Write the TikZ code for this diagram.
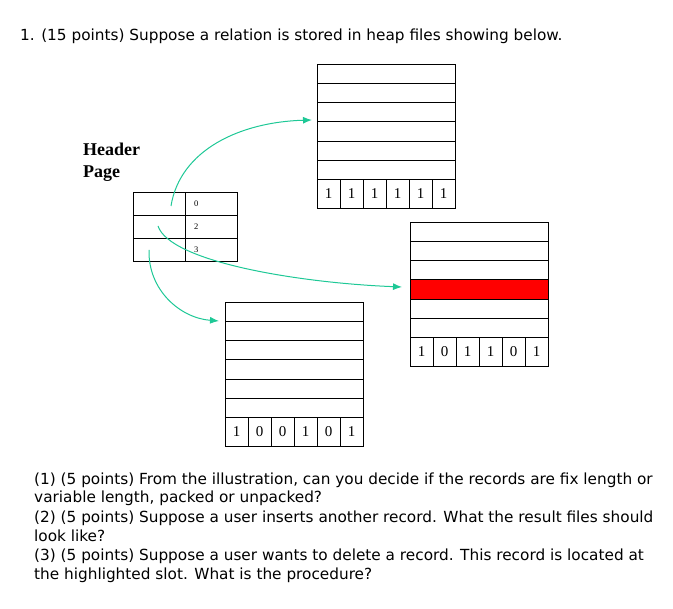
\documentclass[tikz,border=0pt]{standalone}
\usepackage{fontspec}
\setmainfont{Liberation Serif}
\newfontfamily\qfont{DejaVu Sans}
\usetikzlibrary{arrows.meta}
\begin{document}
\begin{tikzpicture}[x=1pt,y=-1pt,
  cell/.style={draw, line width=0.9pt},
  q/.style={anchor=west, font=\qfont\fontsize{15.3}{18}\selectfont, inner sep=0pt},
  bit/.style={font=\fontsize{15}{17}\selectfont, inner sep=0pt},
  hd/.style={font=\fontsize{8.5}{10}\selectfont, inner sep=0pt, anchor=west}]
\useasboundingbox (0,0) rectangle (673,609);
\definecolor{arrc}{RGB}{30,200,150}
\tikzset{arr/.style={draw=arrc, line width=1pt, -{Latex[length=9pt,width=7pt]}}}
\node[q] (title) at (20,36) {1. (15 points) Suppose a relation is stored in heap files showing below.};
% header page
\node[anchor=north west, align=left, inner sep=0pt, font=\bfseries\fontsize{18}{22}\selectfont] (hlabel) at (83,143) {Header\\Page};
\foreach \i/\v in {0/0,1/2,2/3}{
  \draw[cell] (133,{192+23.3*\i}) rectangle (185,{192+23.3*(\i+1)});
  \draw[cell] (185,{192+23.3*\i}) rectangle (237,{192+23.3*(\i+1)});
  \node[hd] (h\i) at (194,{203.5+23.3*\i}) {\v};
}
\coordinate (s0) at (171,206);
\coordinate (s1) at (158,226);
\coordinate (s2) at (149,250);
\foreach \name/\x/\y/\bits/\red in {A/317/64/{1,1,1,1,1,1}/0, B/410/222/{1,0,1,1,0,1}/1, C/225/302/{1,0,0,1,0,1}/0}{
  \begin{scope}[shift={(\x,\y)}]
    \ifnum\red=1 \fill[red] (0,57.9) rectangle (138,77.2);\fi
    \foreach \r in {0,...,5} \draw[cell] (0,{19.3*\r}) rectangle (138,{19.3*(\r+1)});
    \foreach \b [count=\k from 0] in \bits {
      \draw[cell] ({23*\k},115.8) rectangle ({23*(\k+1)},144.5);
      \node[bit] at ({23*\k+11.5},130) {\b};
    }
    \coordinate (\name) at (0,0);
  \end{scope}
}
\coordinate (tA) at (312,120);
\coordinate (tB) at (402,287);
\coordinate (tC) at (219,321);
\draw[arr] (s0) .. controls (180,150) and (240,122) .. (tA);
\draw[arr] (s1) .. controls (170,262) and (300,283) .. (tB);
\draw[arr] (s2) .. controls (148,290) and (180,318) .. (tC);
\node[q] (q1) at (34,480) {(1) (5 points) From the illustration, can you decide if the records are fix length or};
\node[q] (q1b) at (34,498) {variable length, packed or unpacked?};
\node[q] (q2) at (34,518) {(2) (5 points) Suppose a user inserts another record. What the result files should};
\node[q] (q2b) at (34,536) {look like?};
\node[q] (q3) at (34,556) {(3) (5 points) Suppose a user wants to delete a record. This record is located at};
\node[q] (q3b) at (34,575) {the highlighted slot. What is the procedure?};
\end{tikzpicture}
\end{document}
